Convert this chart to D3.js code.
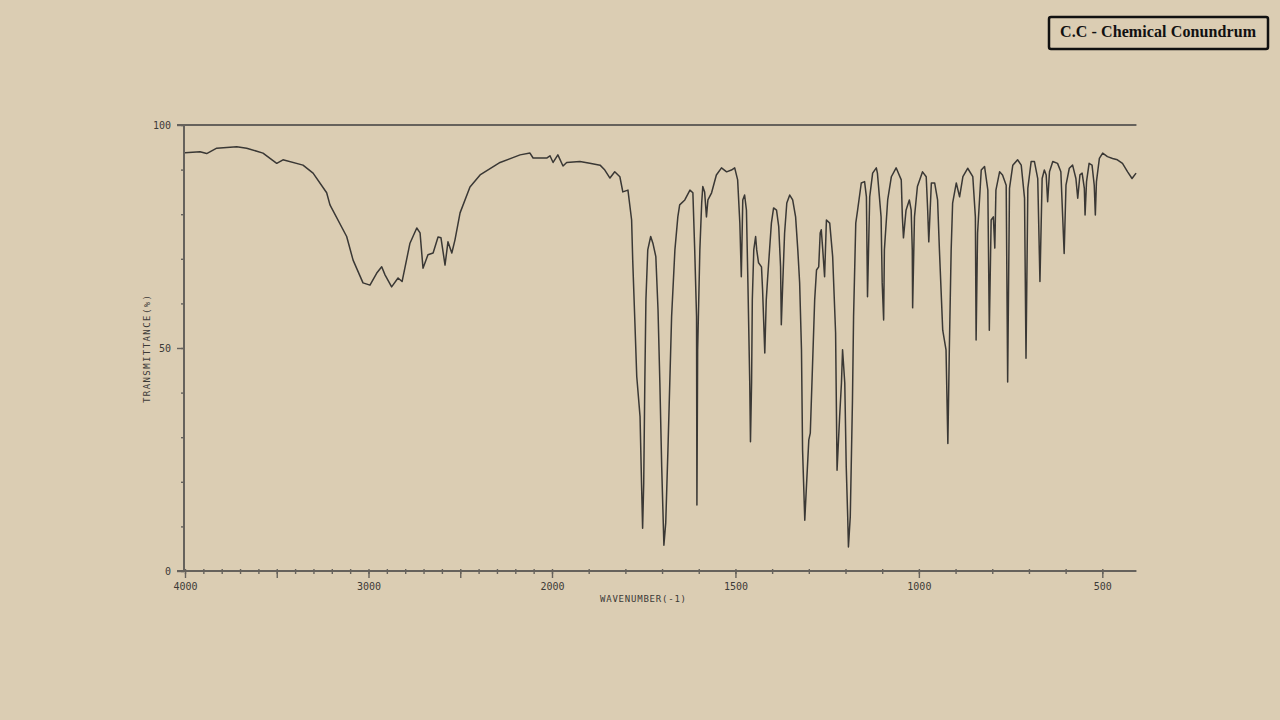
<!DOCTYPE html>
<html>
<head>
<meta charset="utf-8">
<script src="https://cdn.jsdelivr.net/npm/d3@7/dist/d3.min.js"></script>
<style>
  html, body { margin: 0; padding: 0; background: #dbcdb3; }
  svg { display: block; }
</style>
</head>
<body>
<svg id="chart" width="1280" height="720"></svg>
<script>
// ---- data ----
const wavenumber = [
  4000,3918,3882,3827,3718,3664,3575,3500,3466,3357,3302,3228,3210,3119,3084,3030,2992,2955,2928,2910,
  2874,2839,2817,2774,2737,2719,2703,2676,2648,2621,2605,2583,2567,2546,2529,2501,2447,2392,2283,2174,
  2120,2103,2029,2011,1997,1984,1970,1960,1924,1897,1869,1856,1842,1829,1815,1807,1793,1783,1780,1774,
  1769,1760,1756,1753,1750,1747,1744,1739,1731,1725,1717,1711,1706,1701,1695,1690,1684,1674,1665,1657,
  1652,1638,1624,1616,1611,1606,1605,1603,1597,1592,1589,1584,1579,1575,1565,1552,1538,1524,1511,1502,
  1494,1488,1484,1480,1475,1470,1466,1461,1459,1456,1454,1450,1445,1442,1437,1429,1426,1420,1416,1412,
  1407,1402,1396,1388,1382,1377,1375,1371,1366,1360,1352,1344,1336,1330,1325,1320,1317,1311,1306,1300,
  1296,1290,1284,1279,1273,1269,1266,1262,1257,1252,1243,1235,1227,1223,1216,1211,1208,1202,1198,1194,
  1192,1187,1181,1178,1172,1167,1157,1148,1143,1140,1134,1126,1116,1113,1103,1100,1096,1094,1085,1075,
  1062,1048,1045,1042,1035,1026,1021,1018,1017,1012,1004,990,980,976,973,966,957,949,944,935,
  926,921,917,912,908,898,889,880,867,853,846,844,840,830,821,812,808,803,797,793,
  790,780,772,762,758,753,744,731,721,712,708,703,694,685,676,670,664,658,653,649,
  644,635,622,613,604,599,590,581,572,567,561,555,549,547,543,536,528,522,519,516,
  508,499,486,472,459,445,431,419,408
];
const transmittance = [
  93.8,94.0,93.6,94.8,95.1,94.8,93.7,91.4,92.2,91.0,89.2,84.8,82.1,75.0,69.7,64.6,64.1,66.8,68.2,66.4,
  63.7,65.7,64.9,73.5,76.9,75.8,67.9,70.9,71.3,74.9,74.7,68.6,73.8,71.3,74.2,80.3,86.1,88.8,91.6,93.3,
  93.7,92.6,92.6,93.1,91.6,93.3,90.8,91.6,91.8,91.4,91.0,89.9,88.1,89.5,88.4,85.0,85.4,78.7,69.7,55.6,
  43.6,34.6,19.7,9.6,19.7,42.2,60.8,72.0,75.0,73.5,70.5,58.5,42.2,23.4,5.8,10.8,27.1,57.0,72.0,79.4,
  82.1,83.2,85.4,84.8,72.0,57.0,14.8,49.6,72.0,82.5,86.2,85.0,79.4,83.2,84.8,88.8,90.4,89.5,89.9,90.4,
  87.7,78.0,66.0,83.2,84.3,80.9,64.6,42.2,29.0,42.2,60.8,72.0,75.0,72.0,69.1,68.2,63.0,48.9,60.8,66.0,
  72.0,78.0,81.4,80.9,77.2,68.2,55.2,64.6,75.8,82.5,84.3,83.2,79.4,72.0,64.6,49.6,27.1,11.4,19.7,29.4,
  30.9,45.8,60.8,67.5,68.2,75.8,76.5,72.0,66.0,78.7,78.0,70.5,53.4,22.6,34.6,42.2,49.6,42.2,23.4,12.2,
  5.4,12.2,38.3,57.0,78.0,80.9,87.0,87.3,83.9,61.5,83.9,89.2,90.4,89.2,79.4,64.6,56.3,72.0,83.2,88.4,
  90.4,87.7,79.4,74.7,80.9,83.2,80.9,72.0,59.0,79.4,86.2,89.5,88.4,80.9,73.8,87.0,87.0,83.2,72.0,54.0,
  49.6,28.6,49.6,72.0,82.5,87.0,83.9,88.4,90.3,88.4,79.4,51.8,75.8,89.9,90.7,85.4,54.0,78.7,79.4,72.4,
  85.4,89.5,88.8,86.5,42.4,85.8,91.0,92.2,91.0,83.6,47.7,85.8,91.8,91.8,88.0,64.9,88.0,89.9,88.8,82.8,
  89.5,91.8,91.4,89.5,71.2,86.5,90.3,91.0,88.0,83.6,88.8,89.2,85.8,79.8,87.3,91.4,91.0,86.5,79.8,87.3,
  92.5,93.7,92.9,92.5,92.2,91.4,89.5,88.0,89.2
];
const xTickLabels = [4000, 3000, 2000, 1500, 1000, 500];
const yTickLabels = [0, 50, 100];
const xTitle = "WAVENUMBER(-1)";
const yTitle = "TRANSMITTANCE(%)";
const watermark = "C.C - Chemical Conundrum";

// ---- drawing ----
const svg = d3.select("#chart");
const bg = "#dbcdb3";
const axisColor = "#66625c";
const lineColor = "#3a3835";
const labelFont = "'DejaVu Sans Mono', monospace";

svg.append("rect").attr("width", 1280).attr("height", 720).attr("fill", bg);

// split scale: 4000-2000 compressed, 2000-400 expanded
const x = d3.scaleLinear().domain([4000, 2000, 400]).range([185, 552, 1139]);
const y = d3.scaleLinear().domain([0, 100]).range([571, 125]);
const xEnd = x(407);

const minorX = d3.range(4000, 399, -100).filter(v => v >= 500);
const majorX = minorX.filter(v => v % 500 === 0);
const minorY = d3.range(0, 101, 10);

const g = svg.append("g");

// x axis minor ticks
g.append("g").attr("transform", "translate(0,569)")
  .call(d3.axisBottom(x).tickValues(minorX).tickSize(5).tickFormat(""))
  .call(s => s.select(".domain").remove())
  .call(s => s.selectAll("line").attr("stroke", axisColor).attr("stroke-width", 1.4));

// x axis major ticks + labels
g.append("g").attr("transform", "translate(0,571)")
  .call(d3.axisBottom(x).tickValues(majorX).tickSize(7).tickPadding(5)
        .tickFormat(v => xTickLabels.includes(v) ? v : ""))
  .call(s => s.select(".domain").remove())
  .call(s => s.selectAll("line").attr("stroke", axisColor).attr("stroke-width", 1.4))
  .call(s => s.selectAll("text").attr("fill", "#3c3a37")
        .style("font-family", labelFont).style("font-size", "10px"));

// x axis line
g.append("line").attr("x1", 177).attr("x2", xEnd).attr("y1", y(0)).attr("y2", y(0))
  .attr("stroke", axisColor).attr("stroke-width", 2);

// y axis minor ticks
g.append("g").attr("transform", "translate(184,0)")
  .call(d3.axisLeft(y).tickValues(minorY).tickSize(3).tickFormat(""))
  .call(s => s.select(".domain").remove())
  .call(s => s.selectAll("line").attr("stroke", axisColor).attr("stroke-width", 1.4));

// y axis labels
g.append("g").attr("transform", "translate(184,0)")
  .call(d3.axisLeft(y).tickValues(yTickLabels).tickSize(7).tickPadding(6))
  .call(s => s.select(".domain").remove())
  .call(s => s.selectAll("line").attr("stroke", axisColor).attr("stroke-width", 1.4))
  .call(s => s.selectAll("text").attr("fill", "#3c3a37")
        .style("font-family", labelFont).style("font-size", "10px"));

// y axis line
g.append("line").attr("x1", 184).attr("x2", 184).attr("y1", y(100)).attr("y2", y(0))
  .attr("stroke", axisColor).attr("stroke-width", 2);

// 100% line
g.append("line").attr("x1", 177).attr("x2", xEnd).attr("y1", y(100)).attr("y2", y(100))
  .attr("stroke", axisColor).attr("stroke-width", 2);

// axis titles
g.append("text").attr("x", 643).attr("y", 602).attr("text-anchor", "middle")
  .attr("fill", "#3c3a37").style("font-family", labelFont)
  .style("font-size", "9px").attr("textLength", 86).text(xTitle);

g.append("text").attr("transform", "translate(150,349) rotate(-90)").attr("text-anchor", "middle")
  .attr("fill", "#3c3a37").style("font-family", labelFont)
  .style("font-size", "9px").attr("textLength", 108).text(yTitle);

// spectrum
const pts = wavenumber.map((w, i) => [w, transmittance[i]]);
g.append("path").datum(pts)
  .attr("fill", "none").attr("stroke", lineColor).attr("stroke-width", 1.5)
  .attr("stroke-linejoin", "round")
  .attr("d", d3.line().x(d => x(d[0])).y(d => y(d[1])));

// watermark box
svg.append("rect").attr("x", 1049).attr("y", 17).attr("width", 219).attr("height", 32)
  .attr("rx", 2).attr("fill", bg).attr("stroke", "#111").attr("stroke-width", 2.5);
svg.append("text").attr("x", 1158).attr("y", 37).attr("text-anchor", "middle")
  .attr("fill", "#111").style("font-family", "'Liberation Serif', 'DejaVu Serif', serif")
  .style("font-size", "16px").style("font-weight", "bold").attr("textLength", 196).text(watermark);
</script>
</body>
</html>
